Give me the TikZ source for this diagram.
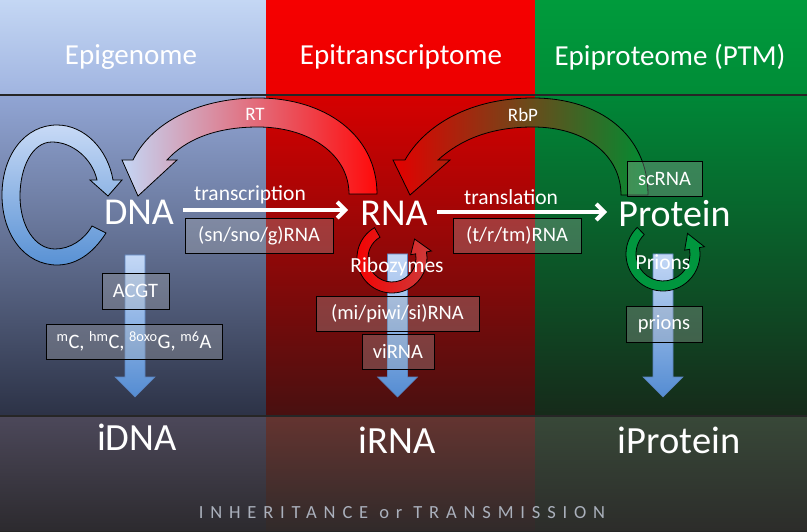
\documentclass[tikz,border=0pt]{standalone}
\usepackage{fontspec}
\setmainfont{Carlito}
\newfontfamily\spacedfont[LetterSpace=37]{Carlito}
\usetikzlibrary{calc,arrows.meta}
\definecolor{hbT}{RGB}{196,215,244}
\definecolor{hbB}{RGB}{160,180,224}
\definecolor{hrT}{RGB}{246,0,0}
\definecolor{hrB}{RGB}{236,0,0}
\definecolor{hgT}{RGB}{0,155,60}
\definecolor{hgB}{RGB}{0,140,55}
\definecolor{mbT}{RGB}{145,165,212}
\definecolor{mbB}{RGB}{44,50,70}
\definecolor{mrT}{RGB}{214,0,0}
\definecolor{mrB}{RGB}{72,16,16}
\definecolor{mgT}{RGB}{0,135,55}
\definecolor{mgB}{RGB}{22,42,26}
\definecolor{bbT}{RGB}{76,72,90}
\definecolor{bbB}{RGB}{44,42,46}
\definecolor{brT}{RGB}{100,52,48}
\definecolor{brB}{RGB}{48,42,42}
\definecolor{bgT}{RGB}{56,72,56}
\definecolor{bgB}{RGB}{44,44,42}
\definecolor{rtL}{RGB}{196,214,245}
\definecolor{rtM}{RGB}{222,168,228}
\definecolor{rtR}{RGB}{255,10,10}
\definecolor{rbL}{RGB}{228,0,0}
\definecolor{rbM}{RGB}{135,88,20}
\definecolor{rbR}{RGB}{0,140,50}
\definecolor{cTop}{RGB}{200,218,246}
\definecolor{cBot}{RGB}{88,145,212}
\definecolor{vTop}{RGB}{196,216,246}
\definecolor{vBot}{RGB}{84,140,210}
\definecolor{vEdge}{RGB}{90,130,190}
\definecolor{rzL}{RGB}{245,0,0}
\definecolor{rzR}{RGB}{205,60,60}
\definecolor{prG}{RGB}{0,150,62}
\definecolor{inhT}{RGB}{170,176,188}
\newcommand\myRing[8]{%
  \pgfmathsetmacro\myRm{(#3+#4)/2}%
  \path[#8] (#1,#2) ++({-#5}:#3) arc[start angle={-#5}, end angle={-#6}, radius=#3]
    -- ($(#1,#2)+({-#6}:{#3+5})$) -- ($(#1,#2)+({-#7}:\myRm)$)
    -- ($(#1,#2)+({-#6}:{#4-5})$) -- ($(#1,#2)+({-#6}:#4)$)
    arc[start angle={-#6}, end angle={-#5}, radius=#4] -- cycle;}
\newcommand\myVarrow[2]{%
  \shade[varrow] (#1-10,#2) -- (#1+10,#2) -- (#1+10,377) -- (#1+20,377)
    -- (#1,397) -- (#1-20,377) -- (#1-10,377) -- cycle;}
\begin{document}
\begin{tikzpicture}[x=1pt,y=-1pt,
  hdr/.style={text=white, font=\fontsize{29}{34}\selectfont},
  bigword/.style={text=white, font=\fontsize{38}{42}\selectfont},
  iword/.style={text=white, font=\fontsize{38.5}{42}\selectfont},
  lbl/.style={text=white, font=\fontsize{21.5}{25}\selectfont},
  arclbl/.style={text=white, font=\fontsize{19}{22}\selectfont},
  tbox/.style={draw=black, line width=0.8, fill=black!30, fill opacity=0.3,
     text opacity=1, text=white, font=\fontsize{20.5}{24}\selectfont,
     inner sep=0pt, minimum height=35pt},
  wline/.style={draw=white, line width=4, -{Straight Barb[length=8pt,width=16pt]}},
  varrow/.style={draw=vEdge, line width=0.6, top color=vTop, bottom color=vBot},
  blockarr/.style={draw=black, line width=0.8}]
\useasboundingbox (0,0) rectangle (807,532);
% backgrounds
\shade[top color=hbT, bottom color=hbB] (0,0) rectangle (266,95);
\shade[top color=hrT, bottom color=hrB] (266,0) rectangle (535,95);
\shade[top color=hgT, bottom color=hgB] (535,0) rectangle (807,95);
\shade[top color=mbT, bottom color=mbB] (0,95) rectangle (266,416);
\shade[top color=mrT, bottom color=mrB] (266,95) rectangle (535,416);
\shade[top color=mgT, bottom color=mgB] (535,95) rectangle (807,416);
\shade[top color=bbT, bottom color=bbB] (0,416) rectangle (266,532);
\shade[top color=brT, bottom color=brB] (266,416) rectangle (535,532);
\shade[top color=bgT, bottom color=bgB] (535,416) rectangle (807,532);
\draw[line width=1.2, black!85] (0,95) -- (807,95);
\draw[line width=1.2, black!85] (0,416) -- (807,416);
\draw[line width=1, black!85] (0,531.5) -- (807,531.5);
% vertical inheritance arrows
\myVarrow{135}{255}
\myVarrow{397.5}{254}
\myVarrow{663}{254}
% RT arrow
\shade[blockarr, left color=rtL, middle color=rtM, right color=rtR]
 (377,194) .. controls (377,135) and (325,98) .. (258,98)
 .. controls (195,98) and (150,125) .. (133,160)
 -- (122,160) -- (138,196) -- (177,160) -- (167,160)
 .. controls (185,140) and (215,127) .. (258,127)
 .. controls (310,127) and (349,155) .. (349,194) -- cycle;
% RbP arrow
\shade[blockarr, left color=rbL, middle color=rbM, right color=rbR]
 (648,195) .. controls (648,135) and (600,98) .. (533,98)
 .. controls (470,98) and (425,125) .. (405,160)
 -- (393,160) -- (410,195) -- (450,160) -- (438,160)
 .. controls (460,140) and (490,127) .. (533,127)
 .. controls (585,127) and (621,155) .. (621,195) -- cycle;
% DNA self loop
\shade[blockarr, top color=cTop, bottom color=cBot]
 (106,233) .. controls (92,255) and (75,265) .. (57,265)
 .. controls (25,265) and (2,235) .. (2,195)
 .. controls (2,155) and (25,125) .. (57,125)
 .. controls (85,125) and (108,150) .. (113,180)
 -- (122,180) -- (108,196) -- (90,180) -- (97,180)
 .. controls (92,158) and (72,142) .. (52,142)
 .. controls (32,142) and (20,168) .. (20,196)
 .. controls (20,226) and (35,249) .. (55,249)
 .. controls (70,249) and (84,240) .. (92,226) -- cycle;
% ribozymes and prions rings
\myRing{392}{258}{35}{24}{120}{370}{40}{blockarr, left color=rzL, right color=rzR}
\myRing{663}{254}{37}{27}{134}{370}{40}{blockarr, fill=prG}
% boxes
\node[tbox, minimum width=148pt] (snbox) at (259,236) {(sn/sno/g)RNA};
\node[tbox, minimum width=128pt] (tbx) at (517,235.5) {(t/r/tm)RNA};
\node[tbox, minimum width=75pt] (scbox) at (664.5,178.5) {scRNA};
\node[tbox, minimum width=67pt, minimum height=36pt] (acgt) at (135.5,291) {ACGT};
\node[tbox, minimum width=176pt] (mods) at (134,341.5)
 {\textsuperscript{m}C, \textsuperscript{hm}C, \textsuperscript{8oxo}G, \textsuperscript{m6}A};
\node[tbox, minimum width=163pt] (mibox) at (397.5,313.5) {(mi/piwi/si)RNA};
\node[tbox, minimum width=72pt] (vibox) at (398,351.5) {viRNA};
\node[tbox, minimum width=76pt, minimum height=36pt] (prbox) at (664,324) {prions};
% headers
\node[hdr] (hg) at (131,57) {Epigenome};
\node[hdr] (ht) at (401,57) {Epitranscriptome};
\node[hdr] (hp) at (670,57) {Epiproteome (PTM)};
% main words
\node[bigword] (dna) at (139,212) {DNA};
\node[bigword] (rna) at (394,213) {RNA};
\node[bigword] (prot) at (674.5,214) {Protein};
\node[iword] (idna) at (137,437) {iDNA};
\node[iword] (irna) at (397,440) {iRNA};
\node[iword] (iprot) at (679,440) {iProtein};
% labels
\node[arclbl] (rt) at (255,114) {RT};
\node[arclbl] (rbp) at (523,115) {RbP};
\node[lbl] (trs) at (250,195) {transcription};
\node[lbl] (trl) at (511,197) {translation};
\node[lbl] (ribo) at (397,267) {Ribozymes};
\node[lbl] (pri) at (663,262) {Prions};
\node[text=inhT, font=\spacedfont\fontsize{18.5}{22}\selectfont] (inh) at (402,513)
 {INHERITANCE or TRANSMISSION};
% horizontal arrows
\coordinate (a1) at (183,210);
\coordinate (a2) at (348,210);
\coordinate (b1) at (437,212);
\coordinate (b2) at (607,212);
\draw[wline] (a1) -- (a2);
\draw[wline] (b1) -- (b2);
\end{tikzpicture}
\end{document}
